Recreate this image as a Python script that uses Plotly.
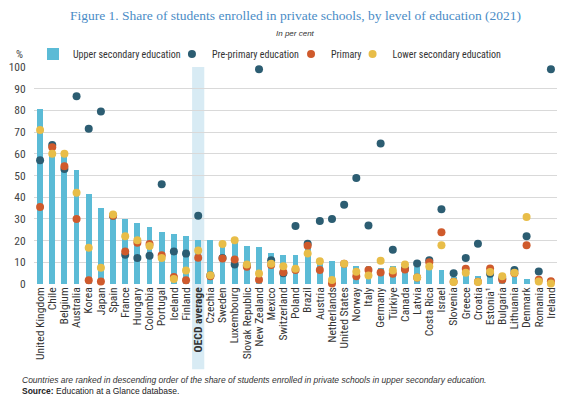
import plotly.graph_objects as go

countries = ["United Kingdom", "Chile", "Belgium", "Australia", "Korea", "Japan", "Spain", "France",
             "Hungary", "Colombia", "Portugal", "Iceland", "Finland", "<b>OECD average</b>", "Czechia",
             "Sweden", "Luxembourg", "Slovak Republic", "New Zealand", "Mexico", "Switzerland", "Poland",
             "Brazil", "Austria", "Netherlands", "United States", "Norway", "Italy", "Germany", "Türkiye",
             "Canada", "Latvia", "Costa Rica", "Israel", "Slovenia", "Greece", "Croatia", "Estonia¹",
             "Bulgaria", "Lithuania", "Denmark", "Romania", "Ireland"]

upper_secondary = [80.5, 61, 59, 52.5, 41.5, 35, 32, 30, 28, 26.5, 24, 23, 22, 20.5, 20.5,
                   20, 20, 17.5, 17, 14.5, 13.5, 13.5, 19, 10, 10.5, 9, 8.5, 8.5, 7.5, 8.5,
                   7, 8, 9, 6.5, 3, 5, 3.5, 3.5, 1, 3, 2.5, 1, 0.5]
pre_primary = [57, 64, 53, 86.5, 71.5, 79.5, 31.5, 13.5, 12, 13, 46, 15, 14, 31.5, 4,
               12, 9, 8.5, 99, 11, 5, 26.7, 18.5, 29, 30, 36.5, 48.8, 27, 64.8, 15.8,
               7, 9.5, 11, 34.5, 5, 12, 18.5, 4.7, 2.5, 6.4, 22, 5.8, 99]
primary = [35.5, 63, 54.3, 30, 1.7, 1.2, 31.5, 15, 19, 18.4, 13.2, 3.2, 1.7, 12.1, 3.6,
           11.8, 11.3, 8, 2, 8.7, 5.4, 6.5, 17.6, 6.4, 0.2, 9.3, 3.6, 6.4, 5.3, 4.7,
           6.7, 3, 10, 23.9, 1, 7, 1, 7.2, 2, 5, 17.9, 2, 1.3]
lower_secondary = [71, 60, 60, 42, 16.7, 7.5, 32, 22, 20.2, 17.5, 12, 2.3, 6.2, 15.4, 4,
                   18.4, 20.2, 9, 4.8, 9.3, 8.2, 7, 14.1, 10.5, 1.8, 9.3, 5.6, 3.9, 10.7, 6.2,
                   9, 3, 8.1, 17.8, 0.9, 5.2, 0.9, 5.5, 3.6, 5.2, 30.9, 1.2, 0.2]

y_ticks = [0, 10, 20, 30, 40, 50, 60, 70, 80, 90, 100]

C_BAR = "#5bbbd6"
C_PRE = "#2c5d72"
C_PRI = "#cf5a2c"
C_LOW = "#e8bd48"
NARROW = "Liberation Sans Narrow, Arial Narrow, Roboto Condensed, Liberation Sans, sans-serif"
REG = "Liberation Sans, Arial, sans-serif"

W, H = 567, 400
plot_left, plot_right = 31, 558
plot_top, plot_bot = 67, 284.5
pw = plot_right - plot_left
ph = plot_bot - plot_top


def px(xpix):
    return (xpix - plot_left) / pw


def py(ypix):
    return (plot_bot - ypix) / ph


x = list(range(len(countries)))

fig = go.Figure()
fig.add_trace(go.Bar(x=x, y=upper_secondary, name="Upper secondary education",
                     marker=dict(color=C_BAR, line=dict(width=0)), width=0.48, legend="legend"))
fig.add_trace(go.Scatter(x=x, y=pre_primary, mode="markers", name="Pre-primary education",
                         marker=dict(color=C_PRE, size=8), cliponaxis=False, legend="legend2"))
fig.add_trace(go.Scatter(x=x, y=primary, mode="markers", name="Primary",
                         marker=dict(color=C_PRI, size=8), cliponaxis=False, legend="legend3"))
fig.add_trace(go.Scatter(x=x, y=lower_secondary, mode="markers", name="Lower secondary education",
                         marker=dict(color=C_LOW, size=8), cliponaxis=False, legend="legend4"))

oecd_idx = 13
fig.add_shape(type="rect", xref="x", yref="paper", x0=oecd_idx - 0.5, x1=oecd_idx + 0.5,
              y0=py(370), y1=1, fillcolor="#d8ebf4", line=dict(width=0), layer="below")

legend_font = dict(family=NARROW, size=10, color="#333333")


def leg(text_start):
    return dict(orientation="h", x=px(text_start - 40), xanchor="left", y=py(54), yanchor="middle",
                font=legend_font, itemwidth=30, bgcolor="rgba(0,0,0,0)")


fig.update_layout(
    width=W, height=H,
    margin=dict(l=plot_left, r=W - plot_right, t=plot_top, b=H - plot_bot),
    plot_bgcolor="white", paper_bgcolor="white",
    bargap=0,
    showlegend=True,
    legend=leg(70), legend2=leg(210), legend3=leg(330), legend4=leg(392),
    title=dict(text="Figure 1. Share of students enrolled in private schools, by level of education (2021)",
               x=0.5, xref="paper", xanchor="center", y=1 - 15 / H, yanchor="middle",
               font=dict(family="Liberation Serif, DejaVu Serif, serif", size=13.5, color="#4a8cc6")),
    xaxis=dict(tickmode="array", tickvals=x, ticktext=countries, tickangle=-90,
               range=[-0.5, len(countries) - 0.5], showgrid=False, zeroline=False,
               tickfont=dict(family=NARROW, size=11.6, color="#333333"), ticks="", showline=False),
    yaxis=dict(range=[0, 100], tickvals=y_ticks, showgrid=True, gridcolor="#d9d9d9", gridwidth=1,
               zeroline=False, tickfont=dict(family=NARROW, size=11.5, color="#444444"),
               ticks="outside", ticklen=5, tickcolor="rgba(0,0,0,0)", showline=False),
)

fig.add_annotation(text="<i>In per cent</i>", xref="paper", yref="paper", x=0.5, y=py(33),
                   yanchor="middle", showarrow=False, font=dict(family=REG, size=8, color="#333333"))
fig.add_annotation(text="%", xref="paper", yref="paper", x=px(22), xanchor="right", y=py(54),
                   yanchor="middle", showarrow=False, font=dict(family=NARROW, size=11, color="#444444"))
fig.add_annotation(text="<i>Countries are ranked in descending order of the share of students enrolled in private schools in upper secondary education.</i>",
                   xref="paper", yref="paper", x=px(17), xanchor="left", y=py(381), yanchor="middle",
                   showarrow=False, font=dict(family=REG, size=8.5, color="#333333"))
fig.add_annotation(text="<b>Source:</b> Education at a Glance database.",
                   xref="paper", yref="paper", x=px(17), xanchor="left", y=py(392), yanchor="middle",
                   showarrow=False, font=dict(family=REG, size=8.5, color="#222222"))

fig.write_html("out.html")
